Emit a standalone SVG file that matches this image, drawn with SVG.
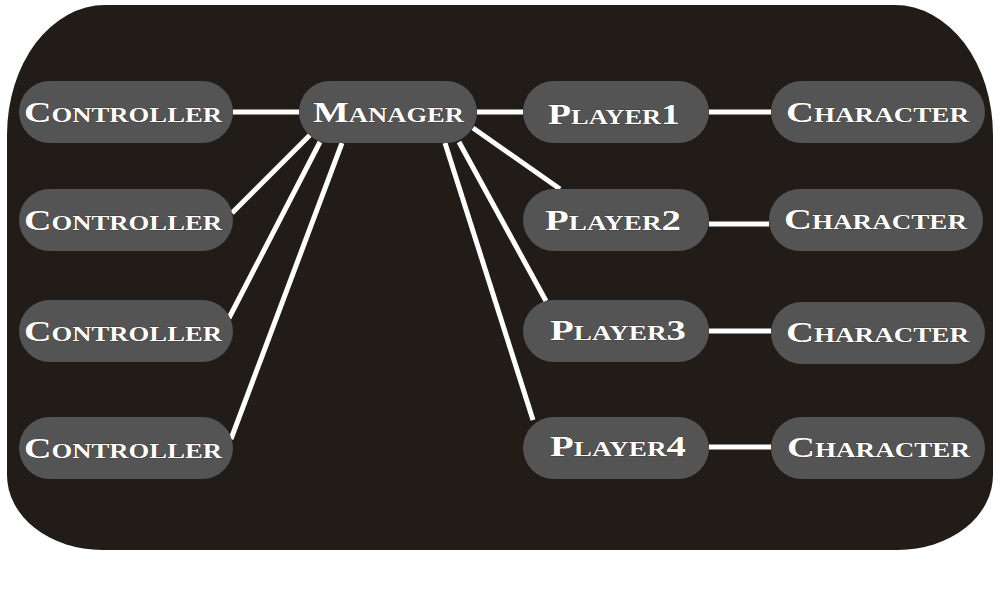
<svg xmlns="http://www.w3.org/2000/svg" width="1000" height="604" viewBox="0 0 1000 604">
<style>
.node rect{fill:#555454;}
.node text{fill:#ffffff;font-family:"Liberation Serif","DejaVu Serif",serif;font-weight:bold;font-size:30px;font-variant:small-caps;text-anchor:middle;stroke:#2a2623;stroke-width:0.6;paint-order:stroke;}
#connectors line{stroke:#ffffff;stroke-width:5;stroke-linecap:butt;}
</style>
<rect width="1000" height="604" fill="#ffffff"/>
<path id="background" d="M105,5 H895 A98,130 0 0 1 993,135 V475 A95,75 0 0 1 898,550 H102 A95,75 0 0 1 7,475 V135 A98,130 0 0 1 105,5 Z" fill="#211c18"/>
<g id="connectors">
<line x1="233" y1="112" x2="299" y2="112"/>
<line x1="310" y1="135" x2="232" y2="213"/>
<line x1="320" y1="142" x2="229" y2="318"/>
<line x1="342" y1="143" x2="231" y2="439"/>
<line x1="477" y1="112" x2="523" y2="112"/>
<line x1="473" y1="128" x2="560" y2="189"/>
<line x1="459" y1="142" x2="546" y2="301"/>
<line x1="445" y1="143" x2="533" y2="420"/>
<line x1="709" y1="112" x2="771" y2="112"/>
<line x1="709" y1="224" x2="769" y2="224"/>
<line x1="709" y1="331" x2="771" y2="331"/>
<line x1="709" y1="447" x2="771" y2="447"/>
</g>
<g id="controller1" class="node"><rect x="19" y="81" width="214" height="62" rx="31"/><text x="123" y="122" textLength="198" lengthAdjust="spacingAndGlyphs">Controller</text></g>
<g id="controller2" class="node"><rect x="19" y="189" width="214" height="62" rx="31"/><text x="123" y="230" textLength="198" lengthAdjust="spacingAndGlyphs">Controller</text></g>
<g id="controller3" class="node"><rect x="19" y="300" width="214" height="62" rx="31"/><text x="123" y="341" textLength="198" lengthAdjust="spacingAndGlyphs">Controller</text></g>
<g id="controller4" class="node"><rect x="19" y="417" width="214" height="62" rx="31"/><text x="123" y="458" textLength="198" lengthAdjust="spacingAndGlyphs">Controller</text></g>
<g id="manager" class="node"><rect x="299" y="81" width="178" height="62" rx="31"/><text x="388.5" y="122" textLength="151" lengthAdjust="spacingAndGlyphs">Manager</text></g>
<g id="player1" class="node"><rect x="523" y="81" width="186" height="62" rx="31"/><text x="614" y="124" textLength="132" lengthAdjust="spacingAndGlyphs">Player1</text></g>
<g id="player2" class="node"><rect x="523" y="189" width="186" height="62" rx="31"/><text x="613" y="230" textLength="136" lengthAdjust="spacingAndGlyphs">Player2</text></g>
<g id="player3" class="node"><rect x="523" y="300" width="186" height="62" rx="31"/><text x="618" y="340" textLength="136" lengthAdjust="spacingAndGlyphs">Player3</text></g>
<g id="player4" class="node"><rect x="523" y="417" width="186" height="62" rx="31"/><text x="618" y="456" textLength="136" lengthAdjust="spacingAndGlyphs">Player4</text></g>
<g id="character1" class="node"><rect x="771" y="81" width="214" height="62" rx="31"/><text x="877.5" y="122" textLength="183" lengthAdjust="spacingAndGlyphs">Character</text></g>
<g id="character2" class="node"><rect x="769" y="189" width="214" height="62" rx="31"/><text x="875.5" y="229" textLength="183" lengthAdjust="spacingAndGlyphs">Character</text></g>
<g id="character3" class="node"><rect x="771" y="302" width="214" height="62" rx="31"/><text x="877.5" y="342" textLength="183" lengthAdjust="spacingAndGlyphs">Character</text></g>
<g id="character4" class="node"><rect x="771" y="417" width="214" height="62" rx="31"/><text x="878.5" y="457" textLength="183" lengthAdjust="spacingAndGlyphs">Character</text></g>
</svg>
